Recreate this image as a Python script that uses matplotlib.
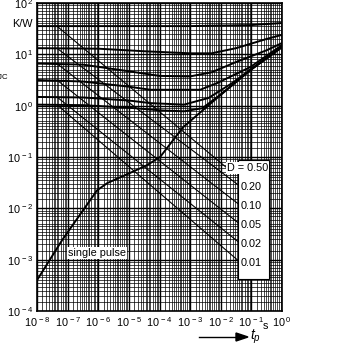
import numpy as np
import matplotlib.pyplot as plt
from matplotlib.ticker import FixedLocator, NullFormatter
from matplotlib.patches import Rectangle

plt.rcParams['font.family'] = ['Liberation Sans', 'DejaVu Sans']
plt.rcParams['mathtext.fontset'] = 'custom'
plt.rcParams['mathtext.rm'] = 'Liberation Sans'
plt.rcParams['mathtext.it'] = 'Liberation Sans:italic'
plt.rcParams['mathtext.default'] = 'regular'

W, H = 338, 352

# log10(t_p) / log10(Z_thJC)
sp_logt = [-8, -7.18, -6.04, -5.71, -4.96, -4.41, -3.98, -3.23, -2.12, -1.04, 0]
sp_logz = [-3.40, -2.62, -1.65, -1.51, -1.31, -1.16, -1.00, -0.42, 0.15, 0.69, 1.14]

duty_labels = ["0.50", "0.20", "0.10", "0.05", "0.02", "0.01"]
duty_logt = [
    [-8, -3, -1, 0],
    [-8, -6, -4.5, -3, -2.3, -1.5, -0.5, 0],
    [-8, -6.5, -5, -4, -3, -2.3, -1.5, -0.5, 0],
    [-8, -6.5, -5, -4.3, -2.67, -2.12, -1.04, 0],
    [-8, -6.5, -5, -4.3, -3.2, -2.4, -1.6, -1.04, 0],
    [-8, -6.5, -5, -4, -3.2, -2.6, -2.0, -1.04, 0],
]
duty_logz = [
    [1.55, 1.55, 1.57, 1.61],
    [1.12, 1.11, 1.06, 1.02, 1.02, 1.12, 1.30, 1.38],
    [0.82, 0.80, 0.67, 0.58, 0.57, 0.65, 0.85, 1.08, 1.22],
    [0.50, 0.47, 0.37, 0.31, 0.31, 0.44, 0.75, 1.18],
    [0.17, 0.16, 0.10, 0.05, 0.02, 0.15, 0.45, 0.70, 1.15],
    [0.02, 0.01, -0.04, -0.09, -0.11, -0.05, 0.22, 0.69, 1.14],
]

x_exp = list(range(-8, 1))
y_exp = list(range(-4, 3))


def fx(px):
    return px / W


def fy(py):
    return 1 - py / H


fig = plt.figure(figsize=(W / 100, H / 100), dpi=100)
ax = fig.add_axes([fx(37), fy(311), fx(282) - fx(37), fy(3) - fy(311)])
ax.set_xscale("log")
ax.set_yscale("log")
ax.set_xlim(1e-8, 1)
ax.set_ylim(1e-4, 1e2)

# dense grid, like the printed log paper
subs = [1.5, 2, 2.5, 3, 3.5, 4, 4.5, 5, 6, 7, 8, 9]
xminor = [s * 10.0 ** e for e in x_exp[:-1] for s in subs]
yminor = [s * 10.0 ** e for e in y_exp[:-1] for s in subs]
ax.xaxis.set_minor_locator(FixedLocator(xminor))
ax.yaxis.set_minor_locator(FixedLocator(yminor))
ax.xaxis.set_minor_formatter(NullFormatter())
ax.yaxis.set_minor_formatter(NullFormatter())
ax.set_xticks([10.0 ** e for e in x_exp])
ax.set_yticks([10.0 ** e for e in y_exp])
ax.set_xticklabels([r"$10^{\,%d}$" % e for e in x_exp], fontsize=7.8)
ax.set_yticklabels([r"$10^{\,%d}$" % e for e in y_exp], fontsize=7.8)
ax.tick_params(which="both", length=0, pad=3)
ax.grid(True, which="major", color="black", lw=1.0)
ax.grid(True, which="minor", color="black", lw=0.5)
for s in ax.spines.values():
    s.set_linewidth(1.2)

ax.plot(10.0 ** np.array(sp_logt), 10.0 ** np.array(sp_logz), color="black", lw=1.4, zorder=3)
for lt, lz in zip(duty_logt, duty_logz):
    ax.plot(10.0 ** np.array(lt), 10.0 ** np.array(lz), color="black", lw=1.4, zorder=3)

# legend box
ax.add_patch(Rectangle((fx(238), fy(279)), fx(269) - fx(238), fy(160) - fy(279),
                       transform=fig.transFigure, facecolor="white", edgecolor="black",
                       lw=0.8, zorder=4))
label_y = [168, 187, 206, 225, 244, 263]
for i, (lab, ly) in enumerate(zip(duty_labels, label_y)):
    txt = "D = " + lab if i == 0 else lab
    xs = 227 if i == 0 else 241
    ax.annotate(txt, xy=(10.0 ** -7.35, 10.0 ** duty_logz[i][0]), xycoords="data",
                xytext=(fx(xs), fy(ly)), textcoords="figure fraction",
                fontsize=7.8, ha="left", va="center", zorder=5,
                bbox=dict(boxstyle="square,pad=0.05", fc="white", ec="none") if i == 0 else None,
                arrowprops=dict(arrowstyle="-", color="black", lw=0.8,
                                shrinkA=0, shrinkB=0, relpos=(0, 0.5)))

fig.text(fx(68), fy(253), "single pulse", fontsize=7.8, ha="left", va="center",
         bbox=dict(boxstyle="square,pad=0.1", fc="white", ec="none"), zorder=6)
fig.text(fx(33), fy(24), "K/W", fontsize=7.8, ha="right", va="center")
fig.text(fx(9), fy(75), r"$Z_{thJC}$", fontsize=8, ha="right", va="center")
fig.text(fx(263), fy(326), "s", fontsize=7.8, ha="left", va="center")

fig.add_artist(plt.Line2D([fx(199), fx(236)], [fy(337), fy(337)], color="black", lw=1.0))
fig.patches.append(plt.Polygon([[fx(236), fy(333)], [fx(248), fy(337)], [fx(236), fy(341)]],
                               closed=True, transform=fig.transFigure, color="black"))
fig.text(fx(250), fy(337), r"$t_{p}$", fontsize=10, ha="left", va="center",
         style="italic")

fig.savefig("out.png", dpi=100)
